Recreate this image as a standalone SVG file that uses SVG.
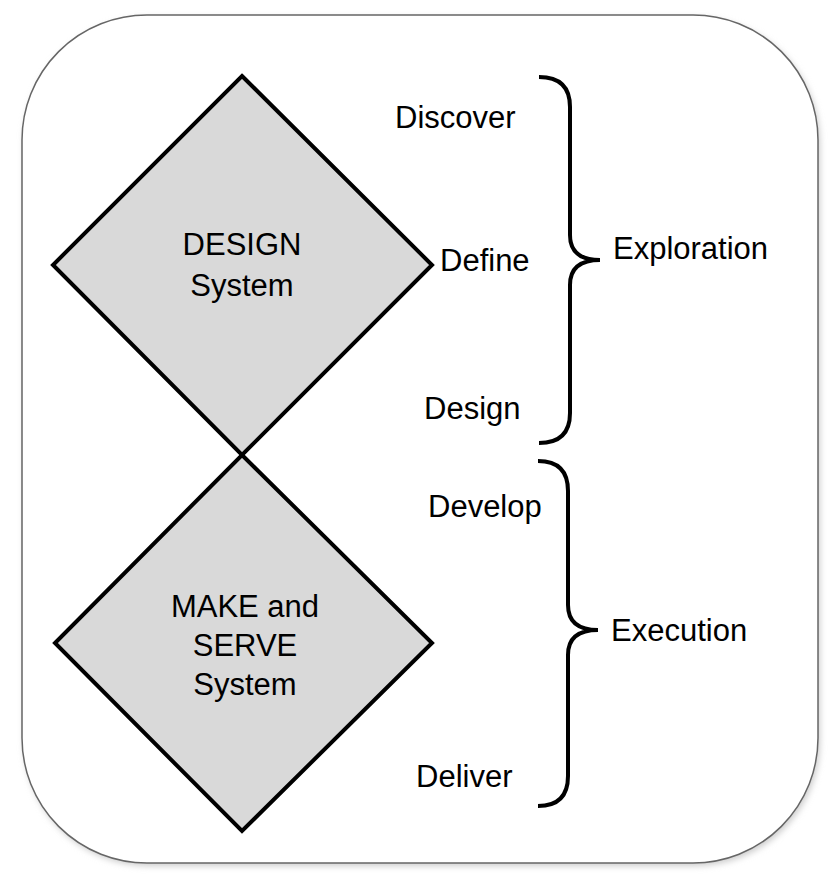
<svg xmlns="http://www.w3.org/2000/svg" width="831" height="888" viewBox="0 0 831 888">
<defs>
<style>
text{font-family:"Liberation Sans",Arial,sans-serif;font-size:31px;fill:#000}
.d{fill:#d9d9d9;stroke:#000;stroke-width:4;stroke-linejoin:miter}
.b{fill:none;stroke:#000;stroke-width:4}
</style>
<filter id="sh" x="-5%" y="-5%" width="110%" height="110%"><feGaussianBlur stdDeviation="3"/></filter>
</defs>
<rect x="24" y="18" width="796" height="848" rx="125" fill="#ccc" filter="url(#sh)"/>
<rect x="22" y="15" width="796" height="848" rx="125" fill="#fff" stroke="#666" stroke-width="1.5"/>
<g id="design">
<polygon class="d" points="242,76 432,265 242,455 53,265"/>
<text x="242" y="255" text-anchor="middle">DESIGN</text>
<text x="242" y="296" text-anchor="middle">System</text>
</g>
<g id="make">
<polygon class="d" points="242,455 432,643 242,831 55,643"/>
<text x="245" y="617" text-anchor="middle">MAKE and</text>
<text x="245" y="656" text-anchor="middle">SERVE</text>
<text x="245" y="695" text-anchor="middle">System</text>
</g>
<g id="labels">
<text x="395" y="128">Discover</text>
<text x="440" y="271">Define</text>
<text x="424" y="419">Design</text>
<text x="428" y="517">Develop</text>
<text x="416" y="787">Deliver</text>
<text x="613" y="259">Exploration</text>
<text x="611" y="641">Execution</text>
</g>
<g id="connectors">
<path class="b" d="M539,77 Q570,77 570,107 L570,235 Q570,260 600,260 Q570,260 570,285 L570,413 Q570,443 539,443"/>
<path class="b" d="M538,461 Q568,461 568,491 L568,605 Q568,630 598,630 Q568,630 568,655 L568,776 Q568,806 538,806"/>
</g>
</svg>
